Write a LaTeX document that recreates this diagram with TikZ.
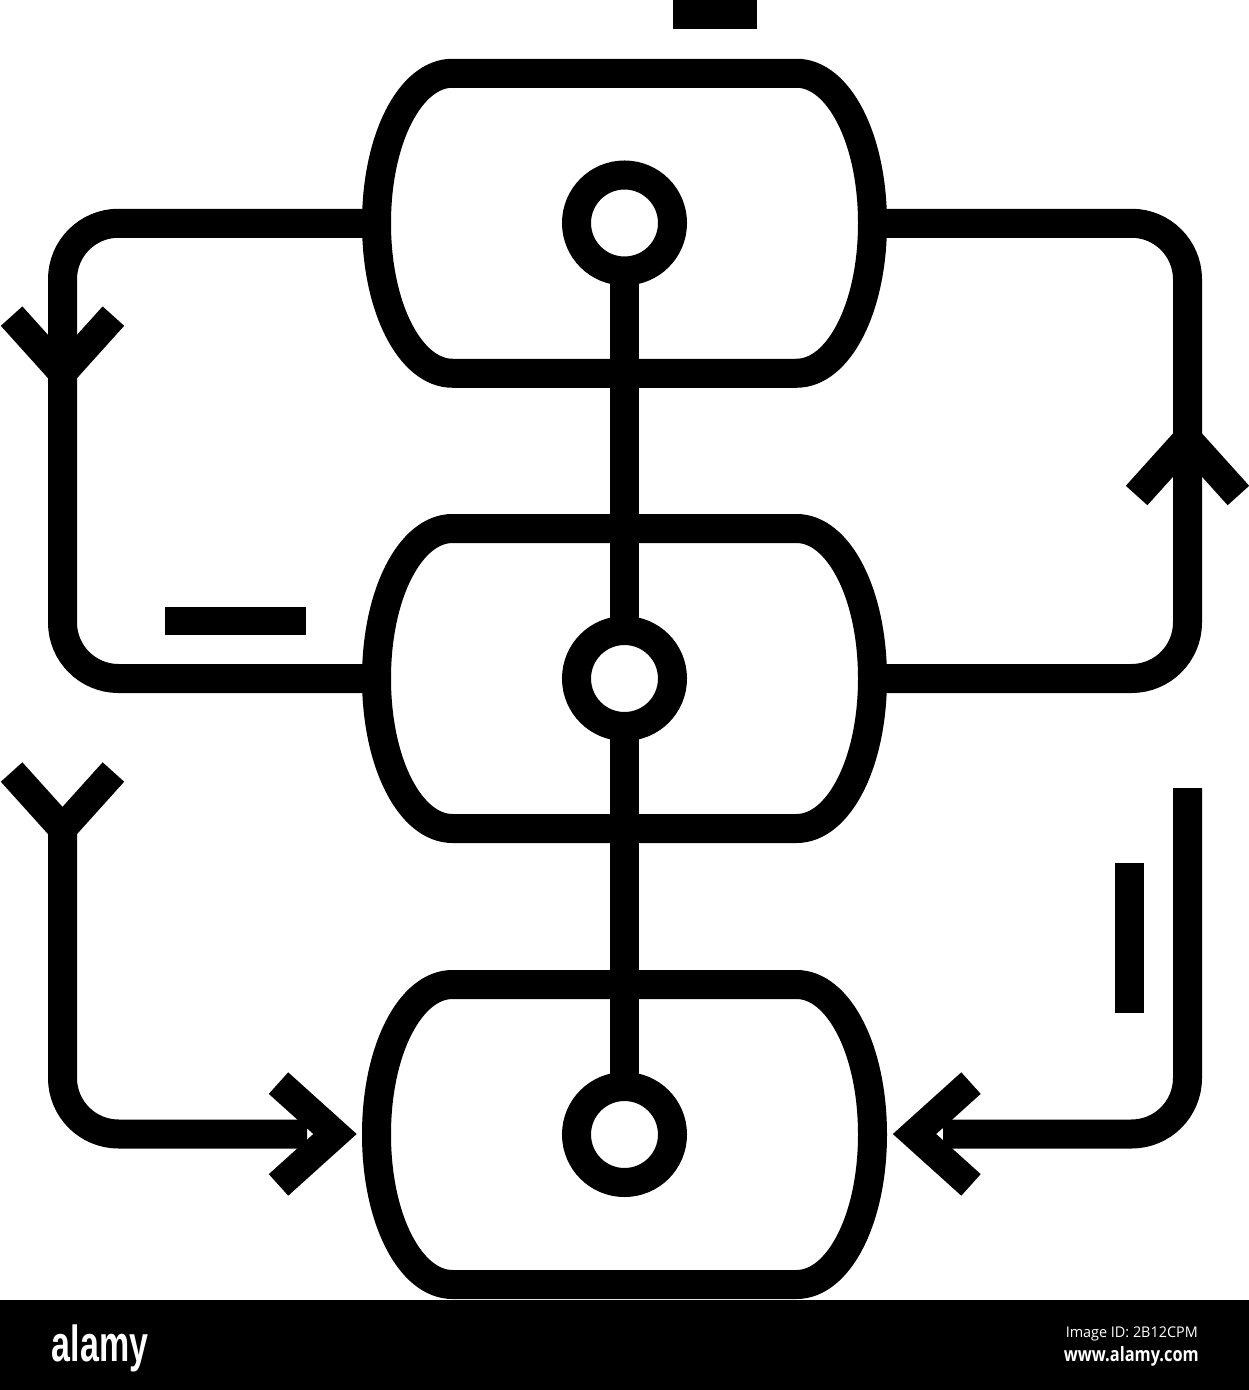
\documentclass[tikz,border=0pt]{standalone}
\usepackage{fontspec}
\setmainfont{Liberation Sans}
\newfontfamily\opensans{Open Sans}
\begin{document}
\begin{tikzpicture}[x=1pt,y=-1pt,
  icon/.style={line width=29pt, line cap=butt, line join=miter, draw=black},
  ring/.style={circle, draw=black, line width=29pt, fill=white, minimum size=96pt, inner sep=0pt},
  capsule/.pic={
    \draw[icon] (-172,-150) -- (172,-150)
      .. controls (214,-150) and (248,-85) .. (248,0)
      .. controls (248,85) and (214,150) .. (172,150)
      -- (-172,150)
      .. controls (-214,150) and (-248,85) .. (-248,0)
      .. controls (-248,-85) and (-214,-150) .. (-172,-150) -- cycle;
  }
]
\useasboundingbox (0,0) rectangle (1249,1390);
\fill[white] (0,0) rectangle (1249,1390);

% capsules
\pic (cap1) at (624.5,223.25) {capsule};
\pic (cap2) at (624.5,678.5) {capsule};
\pic (cap3) at (624.5,1134.5) {capsule};

\coordinate (c1w) at (376.5,223.25);
\coordinate (c1e) at (872.5,223.25);
\coordinate (c2w) at (376.5,678.5);
\coordinate (c2e) at (872.5,678.5);

% loops
\coordinate (L1) at (62.5,223.25);
\coordinate (L2) at (62.5,678.5);
\coordinate (R1) at (1187.5,223.25);
\coordinate (R2) at (1187.5,678.5);
\draw[icon, rounded corners=56pt] (c1w) -- (L1) -- (L2) -- (c2w);
\draw[icon, rounded corners=56pt] (c1e) -- (R1) -- (R2) -- (c2e);

% arrow on left loop (down)
\coordinate (a1) at (62.5,372.6);
\draw[icon] (a1) ++(-50.9,-56.5) -- (a1) -- ++(50.9,-56.5);
% arrow on right loop (up)
\coordinate (a4) at (1187.5,439);
\draw[icon] (a4) ++(-50.9,56.5) -- (a4) -- ++(50.9,56.5);

% bottom left input
\coordinate (a2) at (62.5,828.5);
\coordinate (BL) at (62.5,1134);
\coordinate (a3e) at (307,1134);
\coordinate (a3) at (335,1134);
\draw[icon, rounded corners=56pt] (a2) -- (BL) -- (a3e);
\draw[icon] (a2) ++(-50.9,-56.5) -- (a2) -- ++(50.9,-56.5);
\draw[icon] (a3) ++(-56.5,-50.9) -- (a3) -- ++(-56.5,50.9);

% bottom right input
\coordinate (BRt) at (1187.5,788);
\coordinate (BR) at (1187.5,1134);
\coordinate (a5e) at (943,1134);
\coordinate (a5) at (914.5,1134);
\draw[icon, rounded corners=56pt] (BRt) -- (BR) -- (a5e);
\draw[icon] (a5) ++(56.5,-50.9) -- (a5) -- ++(56.5,50.9);

% spine and circles
\coordinate (p1) at (624.5,223);
\coordinate (p2) at (624.5,678.5);
\coordinate (p3) at (624.5,1134.5);
\draw[icon] (p1) -- (p2) -- (p3);
\node[ring] (k1) at (p1) {};
\node[ring] (k2) at (p2) {};
\node[ring] (k3) at (p3) {};

% dashes
\fill[black] (673,0) rectangle (757,29);
\fill[black] (165,607) rectangle (306,635);
\fill[black] (1115,863) rectangle (1144,1013);

% bottom bar
\fill[black] (0,1300) rectangle (1249,1390);
\node[anchor=base west, inner sep=0pt, text=white] (logo) at (51.7,1361.7)
  {\resizebox{96.3pt}{36.7pt}{\bfseries alamy}};
\node[anchor=base east, inner sep=0pt, text=white] (imgid) at (1198,1337.3)
  {\resizebox{132pt}{10.7pt}{\opensans Image ID: 2B12CPM}};
\node[anchor=base east, inner sep=0pt, text=white] (url) at (1199,1361.7)
  {\resizebox{135pt}{15pt}{\opensans\bfseries www.alamy.com}};
\end{tikzpicture}
\end{document}
